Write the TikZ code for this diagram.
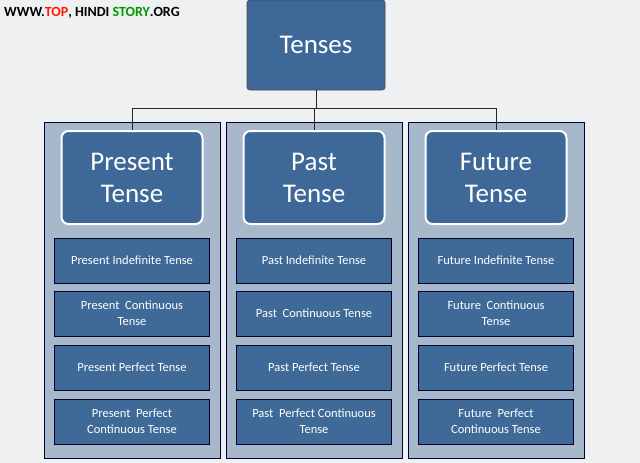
\documentclass[tikz,border=0pt]{standalone}
\usepackage{fontspec}
\setmainfont{Carlito}
\begin{document}
\begin{tikzpicture}[x=1pt,y=-1pt,
  panel/.style={draw=black!80!blue,line width=1pt,fill=panelc},
  head/.style={draw=white,line width=2pt,fill=headc,rounded corners=7pt,text=white,align=center,font=\fontsize{27}{32}\selectfont},
  item/.style={draw=black!80!blue,line width=0.8pt,fill=itemc,text=white,align=center,minimum width=155,minimum height=45,font=\fontsize{12.5}{16}\selectfont},
  conn/.style={draw=black!85,line width=1pt}]
\definecolor{bgc}{HTML}{EEF0F1}
\definecolor{panelc}{HTML}{A7B8CB}
\definecolor{headc}{HTML}{3D6898}
\definecolor{itemc}{HTML}{3F6997}
\fill[bgc] (0,0) rectangle (640,463);
\useasboundingbox (0,0) rectangle (640,463);
\node[anchor=west,font=\bfseries\fontsize{14}{14}\selectfont,inner sep=0] (logo) at (4,13)
 {WWW.\textcolor{red!80!orange}{TOP}, HINDI \textcolor{green!60!black}{STORY}.ORG};
\node[draw=black!70,line width=0.8pt,fill=headc,rounded corners=3pt,text=white,minimum width=138,minimum height=90,font=\fontsize{27}{28}\selectfont] (t) at (316,45) {Tenses};
\foreach \i/\x/\a in {1/44/Present,2/226/Past,3/408/Future}{
  \node[panel,anchor=north west,minimum width=176,minimum height=336,inner sep=0] (p\i) at (\x,122) {};
  \node[head,minimum width=141,minimum height=93] (h\i) at (\x+88,177.5) {\a\\Tense};
}
\coordinate (j) at (316,108);
\draw[conn] (t.south) -- (j);
\draw[conn] (h1.north |- j) -- (h3.north |- j);
\foreach \i in {1,2,3}{\draw[conn] (h\i.north |- j) -- (h\i.north);}
\foreach \i/\x/\n in {1/44/Present,2/226/Past,3/408/Future}{
  \node[item] (a\i) at (\x+88,260.5) {\n\ Indefinite Tense};
  \node[item] (c\i) at (\x+88,367.5) {\n\ Perfect Tense};
}
\node[item] (b1) at (132,313.5) {Present\ \ Continuous\\Tense};
\node[item] (b2) at (314,313.5) {Past\ \ Continuous Tense};
\node[item] (b3) at (496,313.5) {Future\ \ Continuous\\Tense};
\node[item] (d1) at (132,421.5) {Present\ \ Perfect\\Continuous Tense};
\node[item] (d2) at (314,421.5) {Past\ \ Perfect Continuous\\Tense};
\node[item] (d3) at (496,421.5) {Future\ \ Perfect\\Continuous Tense};
\end{tikzpicture}
\end{document}
